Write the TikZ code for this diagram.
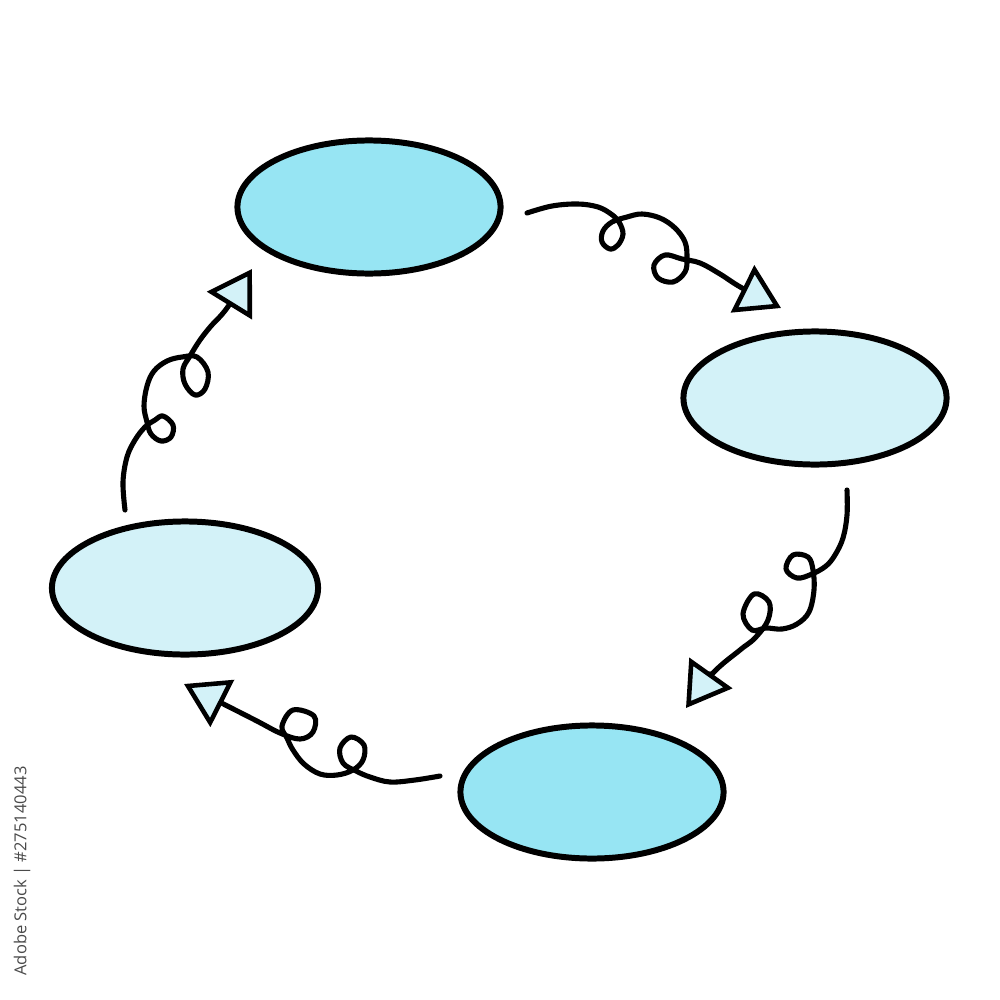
\documentclass[tikz,border=0pt]{standalone}
\usepackage{fontspec}
\setsansfont{Open Sans}
\usetikzlibrary{shapes.geometric,arrows.meta}
\definecolor{deepblue}{HTML}{97E5F3}
\definecolor{paleblue}{HTML}{D3F2F8}
\definecolor{stampgray}{HTML}{4A4A4A}

\begin{document}
\begin{tikzpicture}[line cap=round,line join=round,x=0.01cm,y=-0.01cm,
	>={Triangle[length=4.3mm,width=5.2mm,fill=paleblue,line width=1.3pt]},
	bubble/.style={ellipse,draw,line width=1.7pt,minimum width=2.63cm,minimum height=1.33cm,inner sep=0pt},
	curl/.style={->,line width=1.45pt}]
	
	\useasboundingbox (0,0) rectangle (1000,1000);
	
	\node[bubble,fill=deepblue] (A) at (369,207) {};
	\node[bubble,fill=paleblue] (B) at (815,398) {};
	\node[bubble,fill=deepblue] (C) at (592,792) {};
	\node[bubble,fill=paleblue,minimum width=2.66cm] (D) at (185,588) {};
	
	\coordinate (s1) at (527,213); \coordinate (e1) at (781,308);
	\coordinate (s2) at (847,490); \coordinate (e2) at (686,708);
	\coordinate (s3) at (440,776); \coordinate (e3) at (184,684);
	\coordinate (s4) at (125,510); \coordinate (e4) at (252,269);
	
	\draw[curl] plot[smooth,tension=0.6] coordinates {(s1) (552,206) (578,204) (598,207) (611,214) (619,222) (623,234) (618,245) (610,249) (602,242) (603,231) (612,222) (627,217) (642,214) (660,218) (675,228) (685,242) (687,258) (685,272) (673,282) (658,278) (654,265) (665,255) (682,259) (700,263) (720,274) (742,288) (e1)};
	\draw[curl] plot[smooth,tension=0.6] coordinates {(s2) (847,515) (843,538) (835,555) (826,566) (812,574) (797,578) (786,569) (793,555) (808,557) (813,570) (814,590) (809,612) (797,624) (782,629) (766,628) (752,630) (743,614) (754,594) (769,602) (768,620) (755,638) (740,650) (713,673) (e2)};
	\draw[curl] plot[smooth,tension=0.6] coordinates {(s3) (415,780) (390,782) (370,777) (356,771) (343,763) (340,748) (351,737) (364,745) (363,760) (353,770) (337,775) (320,774) (304,764) (293,750) (287,738) (282,726) (293,710) (314,716) (313,732) (300,739) (280,733) (253,719) (e3)};
	\draw[curl] plot[smooth,tension=0.6] coordinates {(s4) (123,482) (127,457) (135,440) (145,427) (155,420) (163,416) (173,425) (171,437) (161,441) (151,434) (147,422) (144,406) (147,386) (154,371) (167,361) (182,357) (197,357) (208,372) (205,389) (195,395) (185,384) (183,369) (190,356) (200,340) (211,326) (227,308) (e4)};
	
	\node[rotate=90,font=\sffamily\fontsize{4.7}{5.5}\selectfont,text=stampgray] (stamp) at (22,871) {Adobe Stock | \#275140443};
\end{tikzpicture}
\end{document}
